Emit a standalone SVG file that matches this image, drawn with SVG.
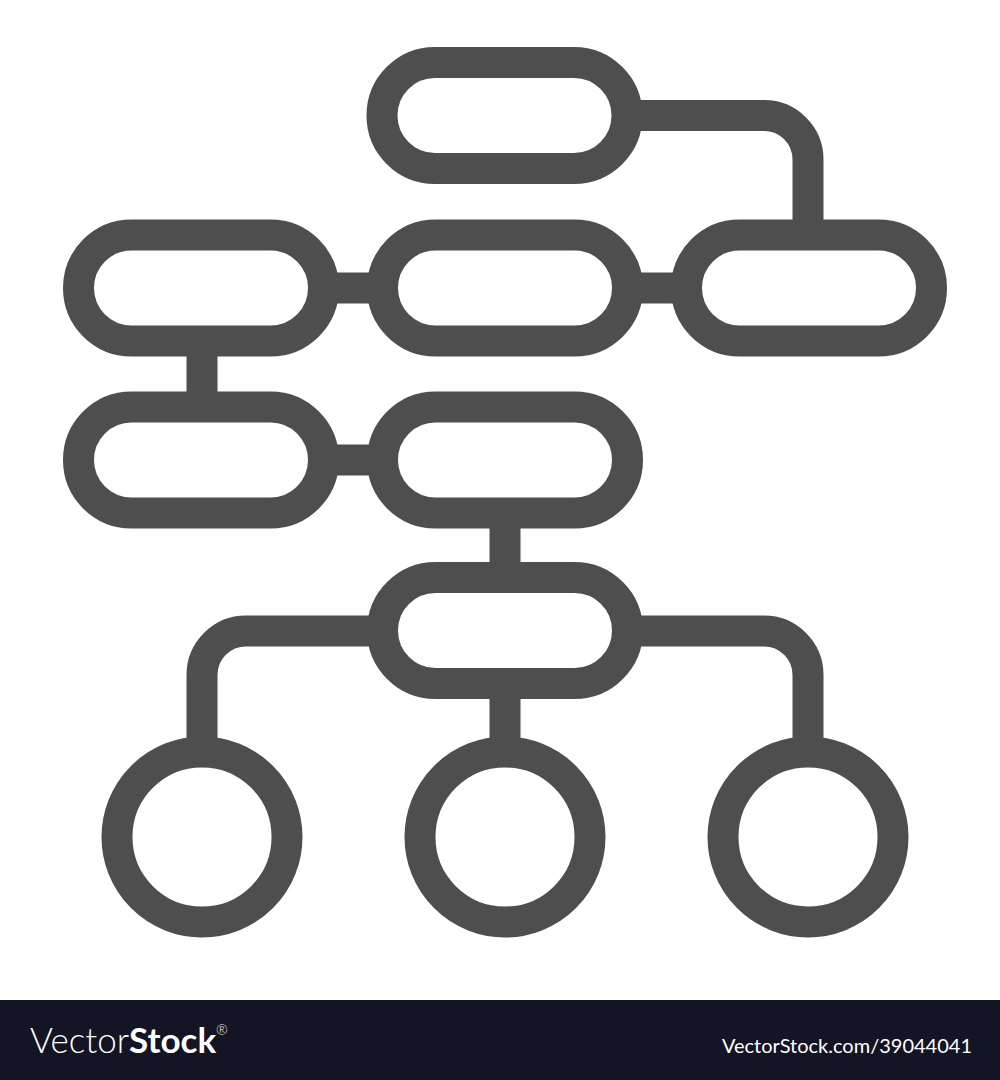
<svg xmlns="http://www.w3.org/2000/svg" width="1000" height="1080" viewBox="0 0 1000 1080">
<style>
.n{fill:#fff;stroke:#4e4e4e;stroke-width:31}
.c{fill:none;stroke:#4e4e4e;stroke-width:31}
.wm{fill:#fff;font-family:Lato,"Liberation Sans",sans-serif}
</style>
<rect x="0" y="0" width="1000" height="1080" fill="#fff"/>
<g id="connectors">
<path class="c" d="M627 115.5 H764 A44 44 0 0 1 808 159.5 V235"/>
<path class="c" d="M323 288 H384"/>
<path class="c" d="M627 288 H687"/>
<path class="c" d="M202 340 V408"/>
<path class="c" d="M323 460 H384"/>
<path class="c" d="M505 512 V579"/>
<path class="c" d="M384 631 H246 A44 44 0 0 0 202 675 V752"/>
<path class="c" d="M505 683 V752"/>
<path class="c" d="M627 631 H764 A44 44 0 0 1 808 675 V752"/>
</g>
<g id="n1"><rect class="n" x="382" y="62.5" width="245" height="106" rx="53"/></g>
<g id="n2"><rect class="n" x="78.5" y="235" width="245" height="106" rx="53"/></g>
<g id="n3"><rect class="n" x="382.5" y="235" width="245" height="106" rx="53"/></g>
<g id="n4"><rect class="n" x="686.5" y="235" width="245" height="106" rx="53"/></g>
<g id="n5"><rect class="n" x="78.5" y="407" width="245" height="106" rx="53"/></g>
<g id="n6"><rect class="n" x="382.5" y="407" width="245" height="106" rx="53"/></g>
<g id="n7"><rect class="n" x="382.5" y="577.5" width="245" height="106" rx="53"/></g>
<g id="n8"><circle class="n" cx="202" cy="837" r="85"/></g>
<g id="n9"><circle class="n" cx="505" cy="837" r="85"/></g>
<g id="n10"><circle class="n" cx="808" cy="837" r="85"/></g>
<rect x="0" y="1000" width="1000" height="80" fill="#131424"/>
<text class="wm" x="30" y="1053" font-size="35"><tspan font-weight="300">Vector</tspan><tspan font-weight="700">Stock</tspan><tspan font-size="14" dy="-18" font-weight="300">®</tspan></text>
<text class="wm" x="972" y="1053" font-size="20" text-anchor="end">VectorStock.com/39044041</text>
</svg>
